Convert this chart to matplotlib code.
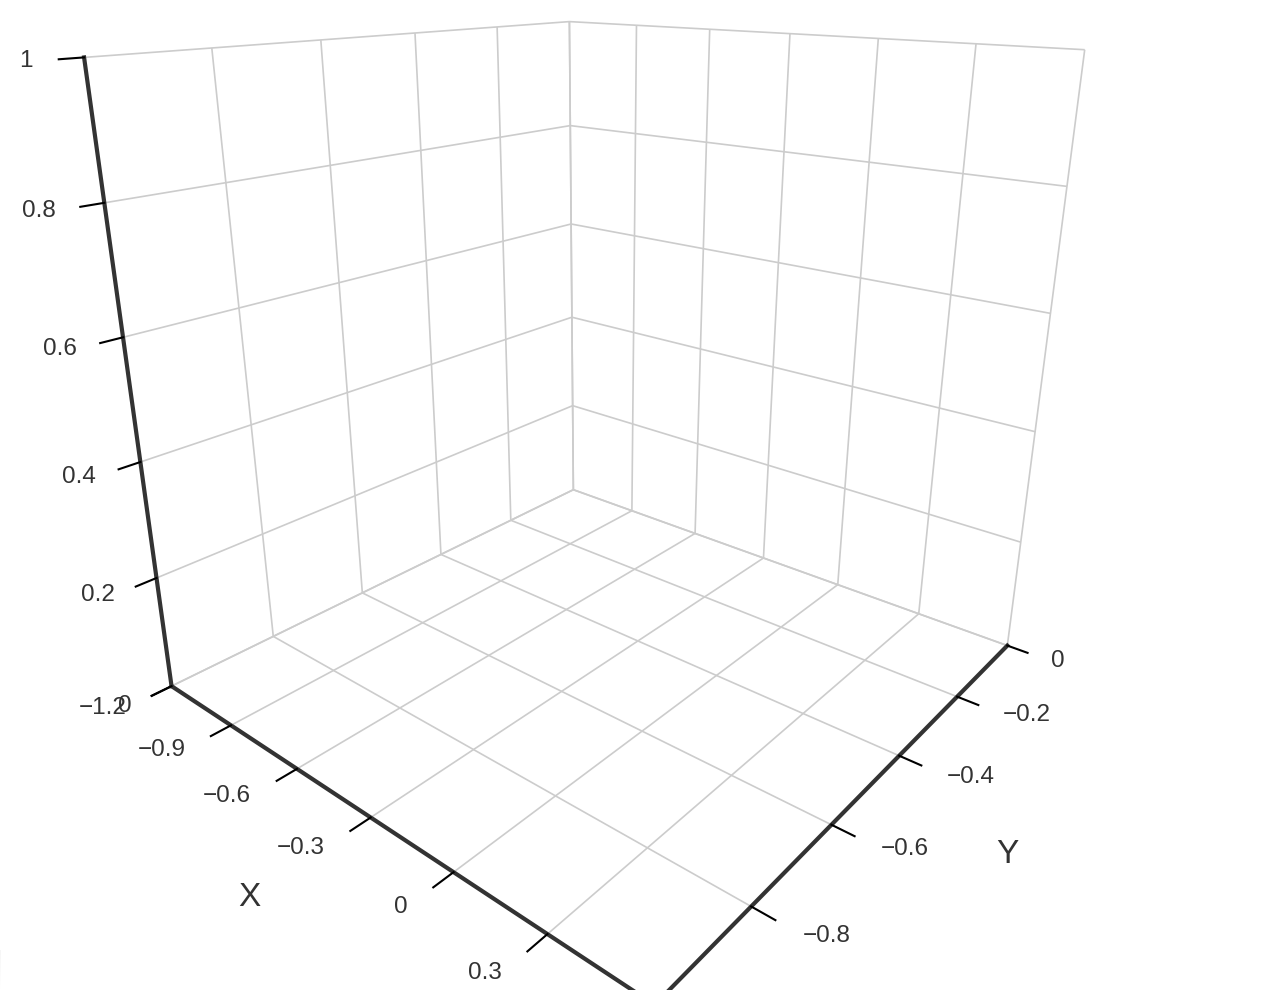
import numpy as np
import matplotlib
matplotlib.use("Agg")
import matplotlib.pyplot as plt
from matplotlib.ticker import NullFormatter

plt.rcParams['font.family'] = ['Liberation Sans', 'DejaVu Sans']

# axis ranges and ticks (empty 3D grid, no series)
x_range = (-1.2, 0.6)
y_range = (-1.0, 0.0)
z_range = (0.0, 1.0)
x_ticks = [-1.2, -0.9, -0.6, -0.3, 0.0, 0.3, 0.6]
y_ticks = [-1.0, -0.8, -0.6, -0.4, -0.2, 0.0]
z_ticks = [0.0, 0.2, 0.4, 0.6, 0.8, 1.0]
axis_names = ['X', 'Y', 'Z']

axis_dark = '#333333'
grid_gray = '#cccccc'
label_col = '#333333'


def fmt(v):
    s = f"{v:.10g}"
    if s == '-0':
        s = '0'
    return s.replace('-', '\u2212')


fig = plt.figure(figsize=(12.72, 9.9), dpi=100)
ax = fig.add_axes([-0.038, 0.046, 0.998, 1.097], projection='3d')
ax.set_proj_type('persp', focal_length=0.21)
ax.view_init(elev=20, azim=-50)
ax.set_box_aspect((1, 1, 1), zoom=1.0)

ax.set_xlim(*x_range)
ax.set_ylim(*y_range)
ax.set_zlim(*z_range)
ax.set_xticks(x_ticks)
ax.set_yticks(y_ticks)
ax.set_zticks(z_ticks)

for axis in (ax.xaxis, ax.yaxis, ax.zaxis):
    axis.set_pane_color((1, 1, 1, 0))
    axis.set_major_formatter(NullFormatter())
    axis._axinfo['grid']['color'] = grid_gray
    axis._axinfo['grid']['linewidth'] = 1.2
    axis._axinfo['grid']['linestyle'] = '-'
    axis._axinfo['axisline']['color'] = axis_dark
    axis._axinfo['axisline']['linewidth'] = 3
    axis._axinfo['tick']['inward_factor'] = 0.45
    axis._axinfo['tick']['outward_factor'] = 0.0
    axis._axinfo['tick']['color'] = axis_dark
    axis._axinfo['tick']['linewidth'] = {True: 1.5, False: 1.0}
    axis.line.set_color(axis_dark)
    axis.line.set_linewidth(3)

ax.zaxis.set_ticks_position('lower')
# z ticks point along the y direction, like the original
ax.zaxis._get_tickdir = lambda position: 1

# tick labels and axis names placed in data space just outside the box
xlo, xhi = x_range
ylo, yhi = y_range
dx = xhi - xlo
dy = yhi - ylo
tick_kw = dict(fontsize=17.5, color=label_col, va='center')
for v in x_ticks[:-1]:
    ax.text(v, ylo - 0.08 * dy, 0, fmt(v), ha='right', **tick_kw)
for v in y_ticks[1:]:
    ax.text(xhi + 0.076 * dx, v, 0, fmt(v), ha='left', **tick_kw)
for v in z_ticks:
    ax.text(xlo, ylo - 0.072 * dy, v, fmt(v), ha='right', **tick_kw)

name_kw = dict(fontsize=24, color=label_col, ha='center', va='center')
ax.text((xlo + xhi) / 2, ylo - 0.2 * dy, 0, axis_names[0], **name_kw)
ax.text(xhi + 0.21 * dx, (ylo + yhi) / 2, 0, axis_names[1], **name_kw)
ax.text(xlo, ylo - 0.225 * dy, 0.48, axis_names[2], **name_kw)

# soft grey shade along the bottom edge of the page
grad = np.linspace(1.0, 0.965, 40).reshape(-1, 1)
fig.figimage(np.dstack([grad, grad, grad]), xo=0, yo=0, origin='lower', zorder=-1,
             resize=False)

fig.savefig('out.png', dpi=100)
